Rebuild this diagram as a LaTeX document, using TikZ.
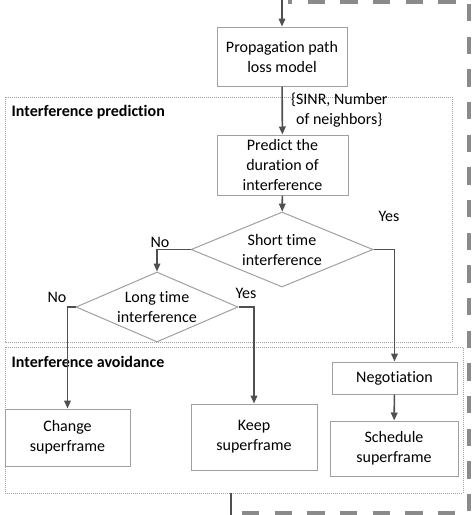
\documentclass[tikz,border=0pt]{standalone}
\usepackage{fontspec}
\setmainfont[Ligatures=NoCommon]{Carlito}
\usepackage{tikz}
\usetikzlibrary{calc}
\usetikzlibrary{positioning}
\usetikzlibrary{shapes}
\usetikzlibrary{arrows.meta}

\definecolor{boxgray}{HTML}{A0A0A0}
\definecolor{linegray}{HTML}{505050}
\definecolor{loopgray}{HTML}{8A8A8A}

\tikzset{
	box/.style={draw=boxgray, line width=0.75pt, align=center, inner sep=0pt},
	decision/.style={draw=boxgray, line width=0.75pt, diamond, align=center, inner sep=0pt, aspect=2.4},
	group/.style={draw=boxgray, line width=0.5pt, dash pattern=on 0.75pt off 0.75pt},
	flow/.style={draw=linegray, line width=1.2pt, -{Triangle[length=6pt, width=5pt]}},
	feedback/.style={draw=loopgray, line width=3pt, dash pattern=on 13pt off 11.5pt}
}

\begin{document}
\begin{tikzpicture}[x=0.75pt, y=-0.75pt, font=\fontsize{12}{15}\selectfont]
			\useasboundingbox (0,0) rectangle (474,515);

			\path[group] (5,97) rectangle (452,342);
			\path[group] (5,347) rectangle (463,493);
			\node[anchor=west, font=\fontsize{12}{15}\selectfont\bfseries] (predlabel) at (7,112) {Interference prediction};
			\node[anchor=west, font=\fontsize{12}{15}\selectfont\bfseries] (avoidlabel) at (7,362) {Interference avoidance};

			\node[box, minimum width=97.5pt, minimum height=44.25pt] (prop) at (282,56.5) {Propagation path\\loss model};
			\node[box, minimum width=98.25pt, minimum height=45pt] (predict) at (282.5,165) {Predict the\\duration of\\interference};

			\node[decision, minimum width=136.5pt, minimum height=56.25pt] (short) at (282,249.5) {Short time\\interference};
			\node[decision, minimum width=121.5pt, minimum height=52.5pt] (long) at (157,307) {Long time\\interference};

			\node[box, minimum width=93.75pt, minimum height=42.75pt] (change) at (67.5,437.5) {Change\\superframe};
			\node[box, minimum width=94.5pt, minimum height=49.5pt] (keep) at (254,437) {Keep\\superframe};
			\node[box, minimum width=93.75pt, minimum height=24pt] (nego) at (394.5,378) {Negotiation};
			\node[box, minimum width=96pt, minimum height=41.25pt] (sched) at (394,448.5) {Schedule\\superframe};

			\node (yes1) at (389,216) {Yes};
			\node (no1) at (160,242) {No};
			\node (no2) at (57,297) {No};
			\node (yes2) at (246,293) {Yes};

			\coordinate (in) at (282,0);
			\coordinate (out) at (231,493);
			\coordinate (end) at (231,515);

			\path[flow] (in) -- (prop);
			\path[flow] (prop) -- node[right, align=center, inner sep=6pt] {\{SINR, Number\\of neighbors\}} (predict);
			\path[flow] (predict) -- (short);
			\path[flow] (short.west) -| (long.north);
			\path[flow] (short.east) -| (nego.north);
			\path[flow] (long.west) -| (change.north);
			\path[flow] (long.east) -| (keep.north);
			\path[flow] (nego) -- (sched);
			\path[draw=linegray, line width=1.2pt] (out) -- (end);

			\path[feedback] (242,513) -- (469,513) -- (469,2) -- (288,2);
        \end{tikzpicture}
\end{document}
